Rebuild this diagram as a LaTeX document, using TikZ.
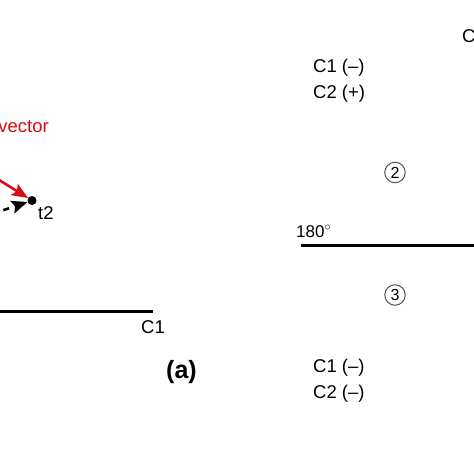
\documentclass[tikz,border=0pt]{standalone}
\usepackage{fontspec}
\setmainfont{Liberation Sans}
\usetikzlibrary{arrows.meta}
\definecolor{vecred}{RGB}{220,10,20}
\definecolor{circgray}{RGB}{85,85,85}
\tikzset{
  lbl/.style={font=\fontsize{18.5}{20}\selectfont, inner sep=0pt, anchor=base west},
  axisline/.style={line width=3pt, black},
  numcirc/.style={circle, draw=circgray, line width=1pt, minimum size=20.5pt, inner sep=0pt, font=\fontsize{16}{16}\selectfont},
  vecarrow/.style={line width=2.6pt, -{Stealth[length=16pt, width=13pt, inset=3pt]}},
}
\begin{document}
\begin{tikzpicture}[x=1pt,y=-1pt]
\useasboundingbox (0,0) rectangle (474,474);
\clip (0,0) rectangle (474,474);
% left panel (a)
\node[lbl, anchor=base east, text=vecred] (vec) at (49,132) {vector};
\node[circle, fill=black, minimum size=9pt, inner sep=0pt] (dot) at (32,200.5) {};
\node[lbl] (t2) at (38,219) {t2};
\coordinate (rs) at (-4,178);
\coordinate (bs) at (-8,214);
\draw[vecarrow, vecred] (rs) -- (dot);
\draw[vecarrow, black, dash pattern=on 6pt off 6pt] (bs) -- (dot);
\coordinate (l1a) at (-2,311);
\coordinate (l1b) at (153,311);
\draw[axisline] (l1a) -- (l1b);
\node[lbl] (c1a) at (141,333) {C1};
\node[font=\fontsize{25}{25}\selectfont\bfseries, inner sep=0pt, anchor=base west] (a) at (166,378) {(a)};
% right panel
\node[lbl] (ctop) at (462,42) {C};
\node[lbl] (r1) at (313,72) {C1 (–)};
\node[lbl] (r2) at (313,98.5) {C2 (+)};
\node[numcirc] (n2) at (395,172.5) {2};
\node[lbl, font=\fontsize{17}{18}\selectfont] (deg) at (296,237) {180$^{\circ}$};
\coordinate (l2a) at (301,245);
\coordinate (l2b) at (476,245);
\draw[axisline] (l2a) -- (l2b);
\node[numcirc] (n3) at (395,295) {3};
\node[lbl] (r3) at (313,372) {C1 (–)};
\node[lbl] (r4) at (313,398.5) {C2 (–)};
\end{tikzpicture}
\end{document}
